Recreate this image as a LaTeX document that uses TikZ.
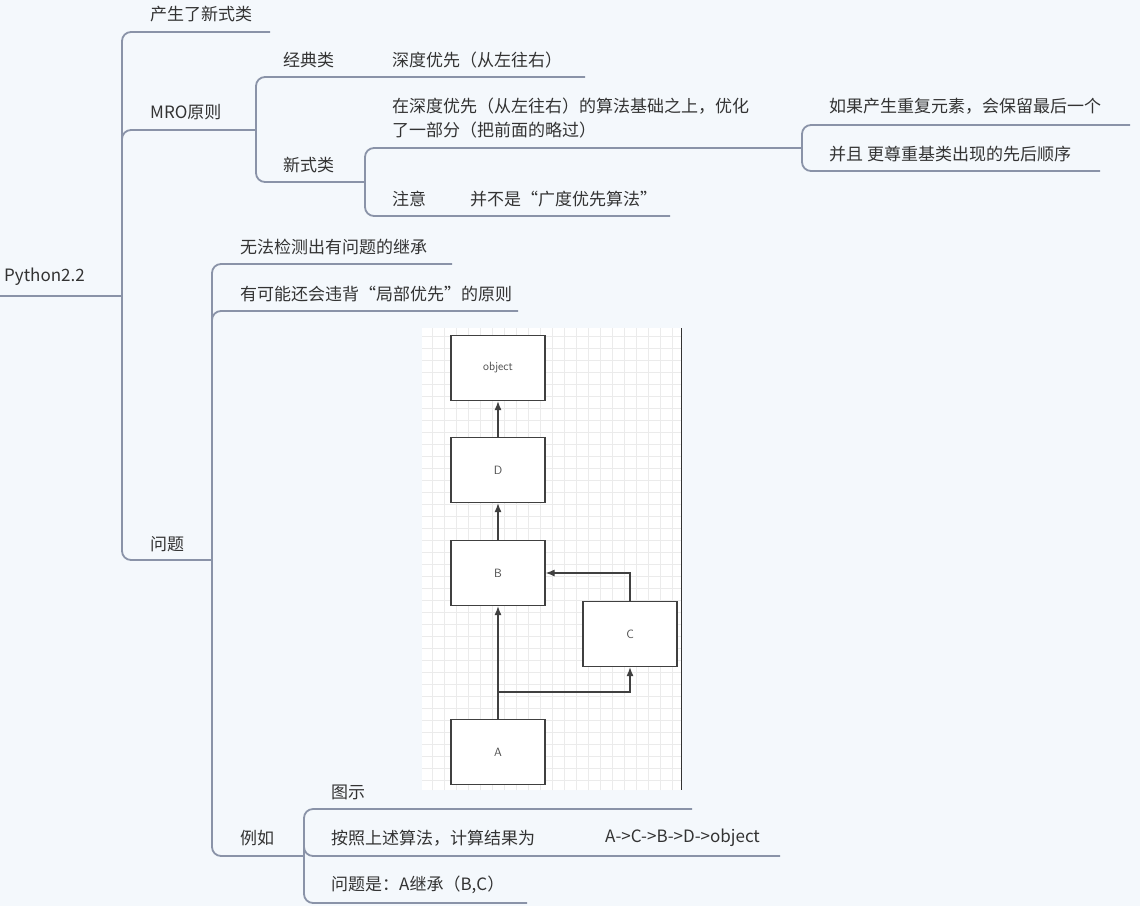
\documentclass[tikz,border=0pt]{standalone}
\usepackage{fontspec}
\setmainfont{Noto Sans CJK SC}
\usetikzlibrary{arrows.meta}
\definecolor{branchcol}{HTML}{8A93A8}
\definecolor{txtcol}{HTML}{333333}
\definecolor{bgcol}{HTML}{F4F8FC}
\begin{document}
\begin{tikzpicture}[x=1pt, y=-1pt, >={Latex[length=9pt,width=7pt]},
    topic/.style={anchor=west, inner sep=0pt, text=txtcol, font=\fontsize{17}{24}\selectfont},
    branch/.style={draw=branchcol, line width=1.8pt, rounded corners=9pt},
    box/.style={draw=black!75, fill=white, line width=1.2pt, minimum width=94pt, minimum height=65pt, font=\fontsize{12}{14}\selectfont\sffamily, text=black!70},
    link/.style={->, draw=black!75, line width=1.2pt}]
    \fill[bgcol] (0,0) rectangle (1140,906);
    \useasboundingbox (0,0) rectangle (1140,906);
    % root
    \node[topic] (root) at (4,277) {Python2.2};
    \coordinate (rootE) at (122,296);
    \draw[branch] (0,296) -- (rootE);
    % level 1
    \node[topic] (newcls) at (150,14) {产生了新式类};
    \node[topic] (mro) at (150,112) {MRO原则};
    \node[topic] (issue) at (150,544) {问题};
    \coordinate (newclsE) at (270,32);
    \coordinate (mroE) at (256,130);
    \coordinate (issueE) at (212,560);
    \draw[branch] (rootE) |- (newclsE);
    \draw[branch] (rootE) |- (mroE);
    \draw[branch] (rootE) |- (issueE);
    % MRO
    \node[topic] (classic) at (283,60) {经典类};
    \node[topic] (dfs) at (392,60) {深度优先（从左往右）};
    \node[topic] (newstyle) at (283,165) {新式类};
    \coordinate (classicE) at (585,77);
    \coordinate (newstyleE) at (365,182);
    \draw[branch] (mroE) |- (classicE);
    \draw[branch] (mroE) |- (newstyleE);
    % new style
    \node[topic, align=left] (improve) at (392,118) {在深度优先（从左往右）的算法基础之上，优化\\了一部分（把前面的略过）};
    \node[topic] (note) at (392,199) {注意};
    \node[topic] (notbfs) at (470,199) {并不是“广度优先算法”};
    \coordinate (improveE) at (802,148);
    \coordinate (noteE) at (670,216);
    \draw[branch] (newstyleE) |- (improveE);
    \draw[branch] (newstyleE) |- (noteE);
    \node[topic] (keeplast) at (829,106) {如果产生重复元素，会保留最后一个};
    \node[topic] (order) at (829,154) {并且 更尊重基类出现的先后顺序};
    \draw[branch] (improveE) |- (1130,125);
    \draw[branch] (improveE) |- (1100,171);
    % issues
    \node[topic] (detect) at (240,247) {无法检测出有问题的继承};
    \node[topic] (local) at (240,294) {有可能还会违背“局部优先”的原则};
    \node[topic] (example) at (240,838) {例如};
    \coordinate (exampleE) at (304,856);
    \draw[branch] (issueE) |- (452,264);
    \draw[branch] (issueE) |- (518,311);
    \draw[branch] (issueE) |- (exampleE);
    % example
    \node[topic] (figure) at (331,792) {图示};
    \node[topic] (calc) at (331,838) {按照上述算法，计算结果为};
    \node[topic] (result) at (605,838) {A->C->B->D->object};
    \node[topic] (inherit) at (331,885) {问题是：A继承（B,C）};
    \draw[branch] (exampleE) |- (692,809);
    \draw[branch] (exampleE) |- (780,856);
    \draw[branch] (exampleE) |- (527,903);
    % figure
    \fill[white] (422,328) rectangle (681,790);
    \draw[black!8, step=12pt] (422,328) grid (681,790);
    \draw[black!80, line width=1pt] (681,328) -- (681,790);
    \node[box] (obj) at (498,368) {object};
    \node[box] (D) at (498,470) {D};
    \node[box] (B) at (498,573) {B};
    \node[box] (C) at (630,634) {C};
    \node[box] (A) at (498,752) {A};
    \draw[link] (A) -- (B);
    \draw[link] (B) -- (D);
    \draw[link] (D) -- (obj);
    \draw[link] (498,692) -| (C);
    \draw[link] (C) |- (B);
\end{tikzpicture}
\end{document}
